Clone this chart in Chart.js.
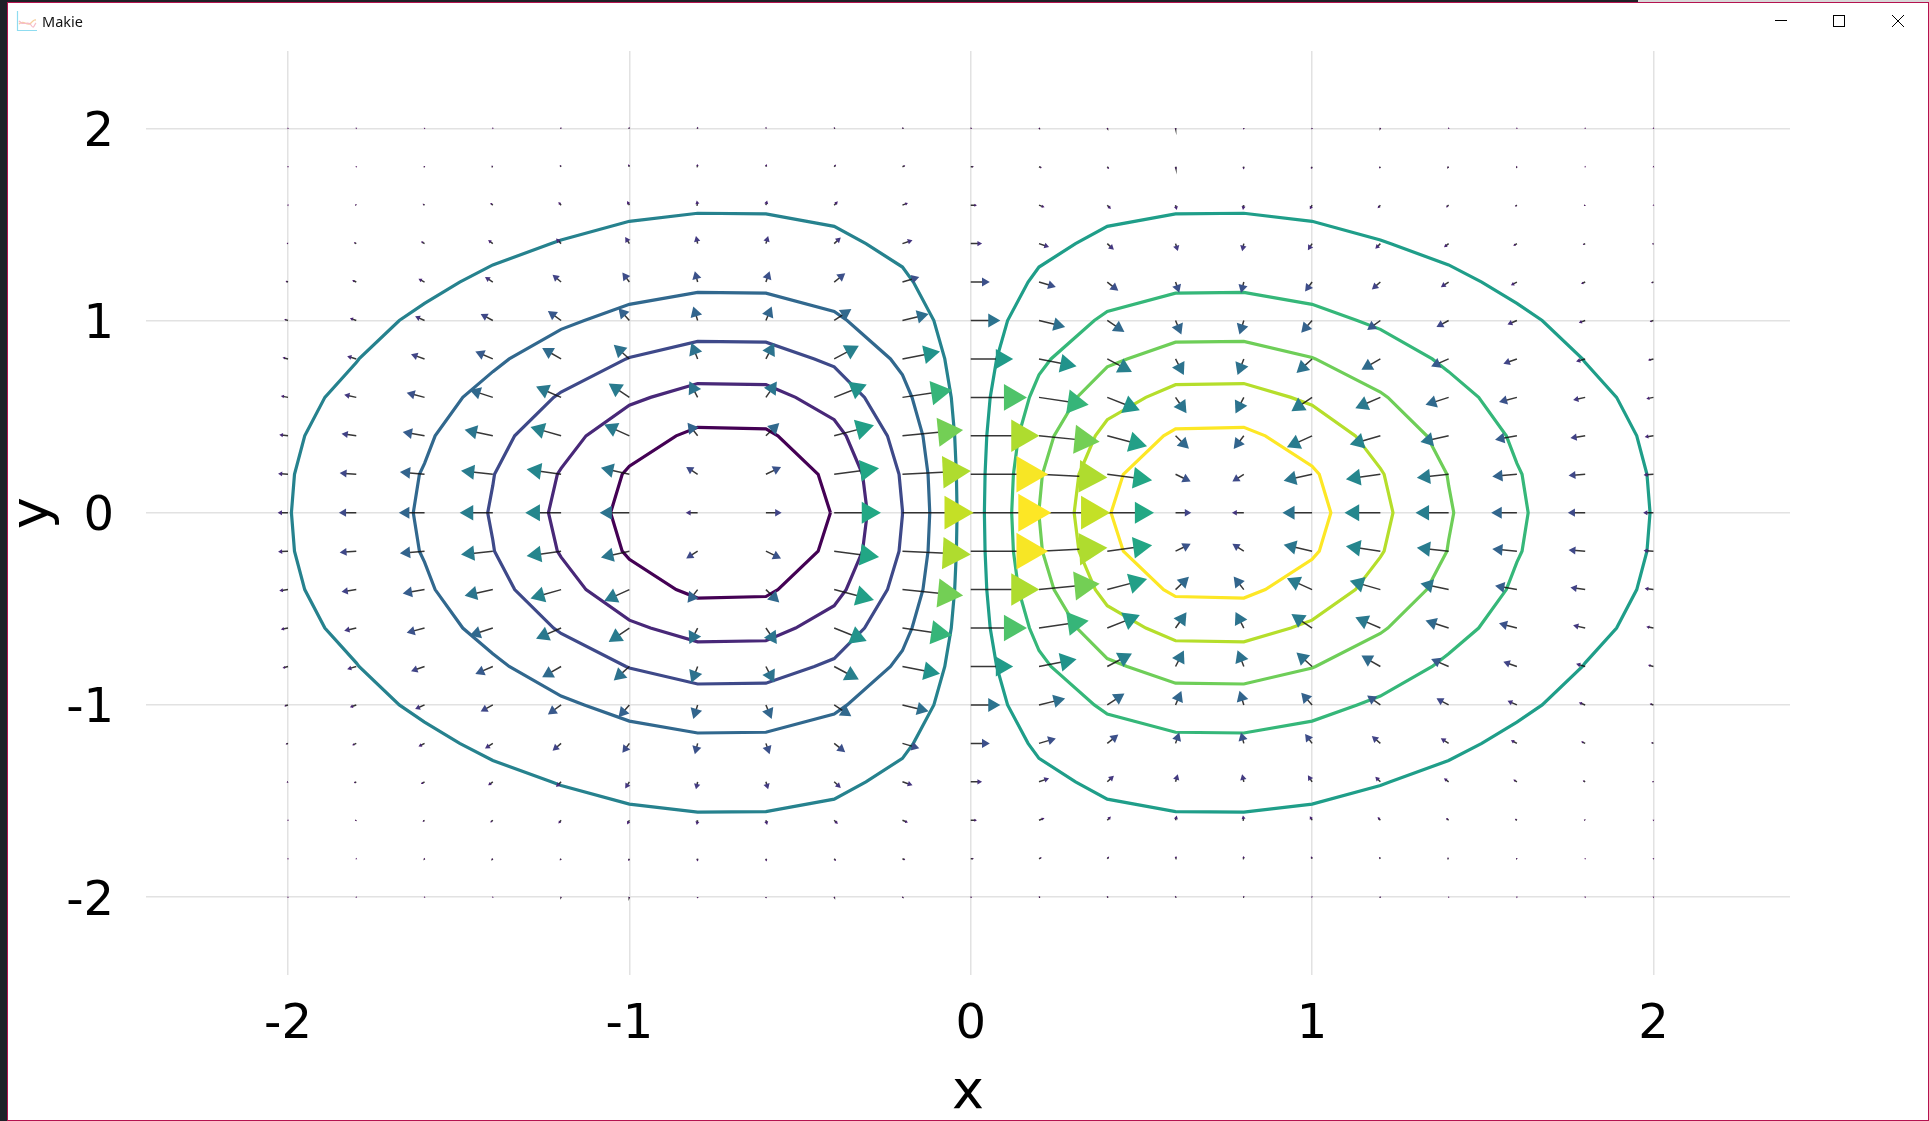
<!DOCTYPE html>
<html lang="en">
<head>
    <meta charset="UTF-8">
    <title>Makie</title>
    <script src="https://cdnjs.cloudflare.com/ajax/libs/Chart.js/4.4.1/chart.umd.min.js"></script>
    <style>
        html, body { margin: 0; padding: 0; background: #ffffff; overflow: hidden; }
        #plot { position: absolute; left: 0; top: 0; }
        #edgeLeft { position: absolute; left: 0; top: 0; width: 7px; height: 1121px; background: #1e2127; }
        #edgeTop { position: absolute; left: 0; top: 0; width: 1638px; height: 2px; background: #1e2127; }
        #edgeTopRight { position: absolute; left: 1638px; top: 0; width: 291px; height: 2px; background: #d8d8d8; }
        #window { position: absolute; left: 7px; top: 2px; width: 1920px; height: 1117px; border: 1px solid #b4134f; pointer-events: none; }
        #title { position: absolute; left: 42px; top: 11px; font: 14.5px "Noto Sans", sans-serif; color: #111111; }
        #chrome { position: absolute; left: 0; top: 0; }
    </style>
</head>
<body>
    <canvas id="plot" width="1929" height="1121"></canvas>
    <div id="edgeLeft"></div>
    <div id="edgeTop"></div>
    <div id="edgeTopRight"></div>
    <div id="window"></div>
    <svg id="chrome" width="1929" height="40" fill="none">
        <path d="M17.5 11V30.5H37" stroke="#8fdcf0" stroke-width="1.2"/>
        <path d="M19 24C24 19 27 27 31 23S34 20 36 20" stroke="#f7cf9f" stroke-width="1.4"/>
        <path d="M19 21C24 27 28 20 31 25S34 25 36 23" stroke="#f6bcc8" stroke-width="1.2"/>
        <path d="M1775 20.5H1787" stroke="#000"/>
        <rect x="1833.5" y="15.5" width="11" height="11" stroke="#000"/>
        <path d="M1892 15L1904 27M1904 15L1892 27" stroke="#000"/>
    </svg>
    <div id="title">Makie</div>

    <script>
        const tickValues = [-2, -1, 0, 1, 2];

        const gridX = [-2, -1.8, -1.6, -1.4, -1.2, -1, -.8, -.6, -.4, -.2, 0, .2, .4, .6, .8, 1, 1.2, 1.4, 1.6, 1.8, 2];
        const gridY = [-2, -1.8, -1.6, -1.4, -1.2, -1, -.8, -.6, -.4, -.2, 0, .2, .4, .6, .8, 1, 1.2, 1.4, 1.6, 1.8, 2];

        // arrow components, one row per gridY value
        const arrowU = [
            [-.002,-.004,-.006,-.008,-.008,-.007,-.003,.004,.011,.016,.018,.016,.011,.004,-.003,-.007,-.008,-.008,-.006,-.004,-.002],
            [-.005,-.008,-.012,-.016,-.017,-.014,-.006,.008,.023,.035,.039,.035,.023,.008,-.006,-.014,-.017,-.016,-.012,-.008,-.005],
            [-.010,-.017,-.025,-.032,-.034,-.028,-.011,.015,.045,.068,.077,.068,.045,.015,-.011,-.028,-.034,-.032,-.025,-.017,-.010],
            [-.018,-.030,-.045,-.058,-.063,-.052,-.021,.028,.082,.125,.141,.125,.082,.028,-.021,-.052,-.063,-.058,-.045,-.030,-.018],
            [-.030,-.051,-.075,-.097,-.106,-.087,-.035,.046,.137,.209,.237,.209,.137,.046,-.035,-.087,-.106,-.097,-.075,-.051,-.030],
            [-.047,-.079,-.117,-.151,-.164,-.135,-.054,.072,.213,.325,.368,.325,.213,.072,-.054,-.135,-.164,-.151,-.117,-.079,-.047],
            [-.068,-.113,-.168,-.217,-.235,-.194,-.078,.103,.306,.466,.527,.466,.306,.103,-.078,-.194,-.235,-.217,-.168,-.113,-.068],
            [-.089,-.150,-.222,-.287,-.311,-.257,-.103,.136,.404,.617,.698,.617,.404,.136,-.103,-.257,-.311,-.287,-.222,-.150,-.089],
            [-.109,-.183,-.271,-.350,-.380,-.313,-.126,.166,.494,.753,.852,.753,.494,.166,-.126,-.313,-.380,-.350,-.271,-.183,-.109],
            [-.123,-.206,-.306,-.395,-.428,-.353,-.142,.188,.557,.849,.961,.849,.557,.188,-.142,-.353,-.428,-.395,-.306,-.206,-.123],
            [-.128,-.215,-.319,-.411,-.445,-.368,-.148,.195,.580,.884,1,.884,.580,.195,-.148,-.368,-.445,-.411,-.319,-.215,-.128],
            [-.123,-.206,-.306,-.395,-.428,-.353,-.142,.188,.557,.849,.961,.849,.557,.188,-.142,-.353,-.428,-.395,-.306,-.206,-.123],
            [-.109,-.183,-.271,-.350,-.380,-.313,-.126,.166,.494,.753,.852,.753,.494,.166,-.126,-.313,-.380,-.350,-.271,-.183,-.109],
            [-.089,-.150,-.222,-.287,-.311,-.257,-.103,.136,.404,.617,.698,.617,.404,.136,-.103,-.257,-.311,-.287,-.222,-.150,-.089],
            [-.068,-.113,-.168,-.217,-.235,-.194,-.078,.103,.306,.466,.527,.466,.306,.103,-.078,-.194,-.235,-.217,-.168,-.113,-.068],
            [-.047,-.079,-.117,-.151,-.164,-.135,-.054,.072,.213,.325,.368,.325,.213,.072,-.054,-.135,-.164,-.151,-.117,-.079,-.047],
            [-.030,-.051,-.075,-.097,-.106,-.087,-.035,.046,.137,.209,.237,.209,.137,.046,-.035,-.087,-.106,-.097,-.075,-.051,-.030],
            [-.018,-.030,-.045,-.058,-.063,-.052,-.021,.028,.082,.125,.141,.125,.082,.028,-.021,-.052,-.063,-.058,-.045,-.030,-.018],
            [-.010,-.017,-.025,-.032,-.034,-.028,-.011,.015,.045,.068,.077,.068,.045,.015,-.011,-.028,-.034,-.032,-.025,-.017,-.010],
            [-.005,-.008,-.012,-.016,-.017,-.014,-.006,.008,.023,.035,.039,.035,.023,.008,-.006,-.014,-.017,-.016,-.012,-.008,-.005],
            [-.002,-.004,-.006,-.008,-.008,-.007,-.003,.004,.011,.016,.018,.016,.011,.004,-.003,-.007,-.008,-.008,-.006,-.004,-.002]
        ];
        const arrowV = [
            [-.003,-.005,-.009,-.014,-.021,-.027,-.031,-.031,-.025,-.014,0,.014,.025,.031,.031,.027,.021,.014,.009,.005,.003],
            [-.005,-.010,-.017,-.028,-.040,-.052,-.059,-.059,-.048,-.027,0,.027,.048,.059,.059,.052,.040,.028,.017,.010,.005],
            [-.009,-.017,-.031,-.049,-.070,-.091,-.104,-.104,-.084,-.048,0,.048,.084,.104,.104,.091,.070,.049,.031,.017,.009],
            [-.014,-.028,-.049,-.078,-.112,-.145,-.166,-.165,-.134,-.076,0,.076,.134,.165,.166,.145,.112,.078,.049,.028,.014],
            [-.021,-.040,-.070,-.112,-.162,-.209,-.240,-.238,-.194,-.109,0,.109,.194,.238,.240,.209,.162,.112,.070,.040,.021],
            [-.027,-.052,-.091,-.145,-.209,-.271,-.310,-.308,-.251,-.141,0,.141,.251,.308,.310,.271,.209,.145,.091,.052,.027],
            [-.031,-.059,-.104,-.166,-.240,-.310,-.356,-.353,-.288,-.162,0,.162,.288,.353,.356,.310,.240,.166,.104,.059,.031],
            [-.031,-.059,-.104,-.165,-.238,-.308,-.353,-.350,-.285,-.161,0,.161,.285,.350,.353,.308,.238,.165,.104,.059,.031],
            [-.025,-.048,-.084,-.134,-.194,-.251,-.288,-.285,-.232,-.131,0,.131,.232,.285,.288,.251,.194,.134,.084,.048,.025],
            [-.014,-.027,-.048,-.076,-.109,-.141,-.162,-.161,-.131,-.074,0,.074,.131,.161,.162,.141,.109,.076,.048,.027,.014],
            [0,0,0,0,0,0,0,0,0,0,0,0,0,0,0,0,0,0,0,0,0],
            [.014,.027,.048,.076,.109,.141,.162,.161,.131,.074,0,-.074,-.131,-.161,-.162,-.141,-.109,-.076,-.048,-.027,-.014],
            [.025,.048,.084,.134,.194,.251,.288,.285,.232,.131,0,-.131,-.232,-.285,-.288,-.251,-.194,-.134,-.084,-.048,-.025],
            [.031,.059,.104,.165,.238,.308,.353,.350,.285,.161,0,-.161,-.285,-.350,-.353,-.308,-.238,-.165,-.104,-.059,-.031],
            [.031,.059,.104,.166,.240,.310,.356,.353,.288,.162,0,-.162,-.288,-.353,-.356,-.310,-.240,-.166,-.104,-.059,-.031],
            [.027,.052,.091,.145,.209,.271,.310,.308,.251,.141,0,-.141,-.251,-.308,-.310,-.271,-.209,-.145,-.091,-.052,-.027],
            [.021,.040,.070,.112,.162,.209,.240,.238,.194,.109,0,-.109,-.194,-.238,-.240,-.209,-.162,-.112,-.070,-.040,-.021],
            [.014,.028,.049,.078,.112,.145,.166,.165,.134,.076,0,-.076,-.134,-.165,-.166,-.145,-.112,-.078,-.049,-.028,-.014],
            [.009,.017,.031,.049,.070,.091,.104,.104,.084,.048,0,-.048,-.084,-.104,-.104,-.091,-.070,-.049,-.031,-.017,-.009],
            [.005,.010,.017,.028,.040,.052,.059,.059,.048,.027,0,-.027,-.048,-.059,-.059,-.052,-.040,-.028,-.017,-.010,-.005],
            [.003,.005,.009,.014,.021,.027,.031,.031,.025,.014,0,-.014,-.025,-.031,-.031,-.027,-.021,-.014,-.009,-.005,-.003]
        ];

        // contour vertices, left lobe inner to outer, then right lobe outer to inner
        const contourX = [
            [-.411,-.447,-.565,-.6,-.8,-.863,-1,-1.021,-1.055,-1.021,-1,-.863,-.8,-.6,-.565,-.447,-.411],
            [-.303,-.317,-.365,-.4,-.513,-.6,-.8,-.938,-1,-1.127,-1.2,-1.211,-1.237,-1.211,-1.2,-1.127,-1,-.938,-.8,-.6,-.513,-.4,-.365,-.317,-.303],
            [-.2,-.2,-.21,-.244,-.311,-.4,-.458,-.6,-.8,-1,-1.01,-1.2,-1.222,-1.336,-1.395,-1.4,-1.415,-1.4,-1.395,-1.336,-1.222,-1.2,-1.01,-1,-.8,-.6,-.458,-.4,-.311,-.244,-.21,-.2,-.2],
            [-.12,-.125,-.14,-.172,-.2,-.235,-.362,-.4,-.6,-.8,-1,-1.132,-1.2,-1.352,-1.4,-1.488,-1.569,-1.6,-1.615,-1.633,-1.615,-1.6,-1.569,-1.488,-1.4,-1.352,-1.2,-1.132,-1,-.8,-.6,-.4,-.362,-.235,-.2,-.172,-.14,-.125,-.12],
            [-.04,-.042,-.047,-.057,-.076,-.108,-.168,-.2,-.307,-.4,-.6,-.8,-1,-1.2,-1.229,-1.4,-1.497,-1.6,-1.674,-1.792,-1.8,-1.892,-1.951,-1.981,-1.99,-1.981,-1.951,-1.892,-1.8,-1.792,-1.674,-1.6,-1.497,-1.4,-1.229,-1.2,-1,-.8,-.6,-.4,-.307,-.2,-.168,-.108,-.076,-.057,-.047,-.042,-.04],
            [.04,.042,.047,.057,.076,.108,.168,.2,.307,.4,.6,.8,1,1.2,1.229,1.4,1.497,1.6,1.674,1.792,1.8,1.892,1.951,1.981,1.99,1.981,1.951,1.892,1.8,1.792,1.674,1.6,1.497,1.4,1.229,1.2,1,.8,.6,.4,.307,.2,.168,.108,.076,.057,.047,.042,.04],
            [.12,.125,.14,.172,.2,.235,.362,.4,.6,.8,1,1.132,1.2,1.352,1.4,1.488,1.569,1.6,1.615,1.633,1.615,1.6,1.569,1.488,1.4,1.352,1.2,1.132,1,.8,.6,.4,.362,.235,.2,.172,.14,.125,.12],
            [.2,.2,.21,.244,.311,.4,.458,.6,.8,1,1.01,1.2,1.222,1.336,1.395,1.4,1.415,1.4,1.395,1.336,1.222,1.2,1.01,1,.8,.6,.458,.4,.311,.244,.21,.2,.2],
            [.303,.317,.365,.4,.513,.6,.8,.938,1,1.127,1.2,1.211,1.237,1.211,1.2,1.127,1,.938,.8,.6,.513,.4,.365,.317,.303],
            [.411,.447,.565,.6,.8,.863,1,1.021,1.055,1.021,1,.863,.8,.6,.565,.447,.411]
        ];
        const contourY = [
            [0,.2,.4,.436,.444,.4,.242,.2,0,-.2,-.242,-.4,-.444,-.436,-.4,-.2,0],
            [0,.2,.4,.484,.6,.666,.672,.6,.559,.4,.231,.2,0,-.2,-.231,-.4,-.559,-.6,-.672,-.666,-.6,-.484,-.4,-.2,0],
            [0,.012,.2,.4,.6,.759,.8,.887,.891,.808,.8,.628,.6,.4,.2,.142,0,-.142,-.2,-.4,-.6,-.628,-.8,-.808,-.891,-.887,-.8,-.759,-.6,-.4,-.2,-.012,0],
            [0,.2,.4,.6,.717,.8,1,1.047,1.142,1.146,1.084,1,.954,.8,.734,.6,.4,.257,.2,0,-.2,-.257,-.4,-.6,-.734,-.8,-.954,-1,-1.084,-1.146,-1.142,-1.047,-1,-.8,-.717,-.6,-.4,-.2,0],
            [0,.2,.4,.6,.8,1,1.2,1.278,1.4,1.49,1.555,1.558,1.516,1.419,1.4,1.289,1.2,1.089,1,.8,.781,.6,.4,.2,0,-.2,-.4,-.6,-.781,-.8,-1,-1.089,-1.2,-1.289,-1.4,-1.419,-1.516,-1.558,-1.555,-1.49,-1.4,-1.278,-1.2,-1,-.8,-.6,-.4,-.2,0]
        ];
        const contourColors = ['#440154', '#482878', '#3e4989', '#31688e', '#26828e', '#1f9e89', '#35b779', '#6ece58', '#b5de2b', '#fde725'];

        // viridis, used for the arrow heads
        const viridis = [
            [68, 1, 84], [72, 36, 117], [65, 68, 135], [53, 95, 141], [42, 120, 142], [33, 145, 140],
            [34, 168, 132], [68, 191, 112], [122, 209, 81], [189, 223, 38], [253, 231, 37]
        ];

        function viridisColor(t) {
            const pos = Math.min(Math.max(t, 0), 1) * (viridis.length - 1);
            const i = Math.min(Math.floor(pos), viridis.length - 2);
            const f = pos - i;
            const c = viridis[i].map((v, n) => Math.round(v + (viridis[i + 1][n] - v) * f));
            return `rgb(${c[0]},${c[1]},${c[2]})`;
        }

        // plot area is 1644 x 924 px for the axis limits below
        const pxPerX = 341.36;
        const pxPerY = 192.2;
        const arrowScale = 0.236;
        const headScale = 22;
        const colorTop = 0.97;

        const shafts = [];
        const heads = [];
        gridY.forEach((y, j) => {
            gridX.forEach((x, i) => {
                const u = arrowU[j][i];
                const v = arrowV[j][i];
                const strength = Math.hypot(u, v);
                const radius = Math.max(strength * headScale, 1);
                const lengthPx = arrowScale * Math.hypot(u * pxPerX, v * pxPerY);
                // the triangle is centred on its point, so pull it back from the arrow tip
                const f = arrowScale * Math.max(1 - radius / lengthPx, 0);
                const hx = x + u * f;
                const hy = y + v * f;
                shafts.push({ x, y }, { x: hx, y: hy }, { x: null, y: null });
                heads.push({
                    x: hx,
                    y: hy,
                    radius,
                    angle: Math.atan2(u * pxPerX, v * pxPerY) * 180 / Math.PI,
                    color: viridisColor(strength / colorTop)
                });
            });
        });

        const contourSets = contourX.map((xs, i) => {
            const ys = contourY[i < 5 ? i : 9 - i];
            return {
                type: 'scatter',
                showLine: true,
                data: xs.map((x, n) => ({ x, y: ys[n] })),
                borderColor: contourColors[i],
                borderWidth: 3.2,
                pointRadius: 0,
                fill: false,
                order: 2
            };
        });

        const axisFont = { family: 'DejaVu Sans', size: 48 };
        const titleFont = { family: 'DejaVu Sans', size: 54 };
        const gridStyle = { color: '#e2e2e2', lineWidth: 1.5, drawTicks: false, tickLength: 0 };

        new Chart(document.getElementById('plot'), {
            type: 'scatter',
            data: {
                datasets: [
                    {
                        data: heads,
                        pointStyle: 'triangle',
                        pointRadius: ctx => ctx.raw.radius,
                        pointRotation: ctx => ctx.raw.angle,
                        pointBackgroundColor: ctx => ctx.raw.color,
                        pointBorderWidth: 0,
                        order: 0
                    },
                    {
                        data: shafts,
                        showLine: true,
                        spanGaps: false,
                        borderColor: 'rgba(20,20,20,0.85)',
                        borderWidth: 1.5,
                        pointRadius: 0,
                        order: 1
                    },
                    ...contourSets
                ]
            },
            options: {
                responsive: false,
                devicePixelRatio: 1,
                animation: false,
                events: [],
                layout: { padding: { left: 0, right: 139, top: 51, bottom: 0 } },
                plugins: { legend: { display: false }, tooltip: { enabled: false } },
                scales: {
                    x: {
                        type: 'linear',
                        min: -2.416,
                        max: 2.4,
                        afterBuildTicks: axis => { axis.ticks = tickValues.map(value => ({ value })); },
                        afterFit: axis => {
                            axis.height = 146;
                            axis.paddingLeft = 0;
                            axis.paddingRight = 0;
                        },
                        grid: gridStyle,
                        border: { display: false },
                        ticks: { color: '#000', font: axisFont, padding: 22, maxRotation: 0, callback: v => String(v) },
                        title: { display: true, text: 'x', color: '#000', font: titleFont, padding: { top: 0, bottom: -5 } }
                    },
                    y: {
                        type: 'linear',
                        min: -2.405,
                        max: 2.402,
                        afterBuildTicks: axis => { axis.ticks = tickValues.map(value => ({ value })); },
                        afterFit: axis => {
                            axis.width = 146;
                            axis.paddingTop = 0;
                            axis.paddingBottom = 0;
                        },
                        grid: gridStyle,
                        border: { display: false },
                        // the empty first line pushes the number down onto its grid line
                        ticks: { color: '#000', font: { ...axisFont, lineHeight: '10px' }, padding: 32, callback: v => ['', String(v)] },
                        title: { display: true, text: 'y', color: '#000', font: titleFont, padding: { top: 2, bottom: 0 } }
                    }
                }
            }
        });
    </script>
</body>
</html>
